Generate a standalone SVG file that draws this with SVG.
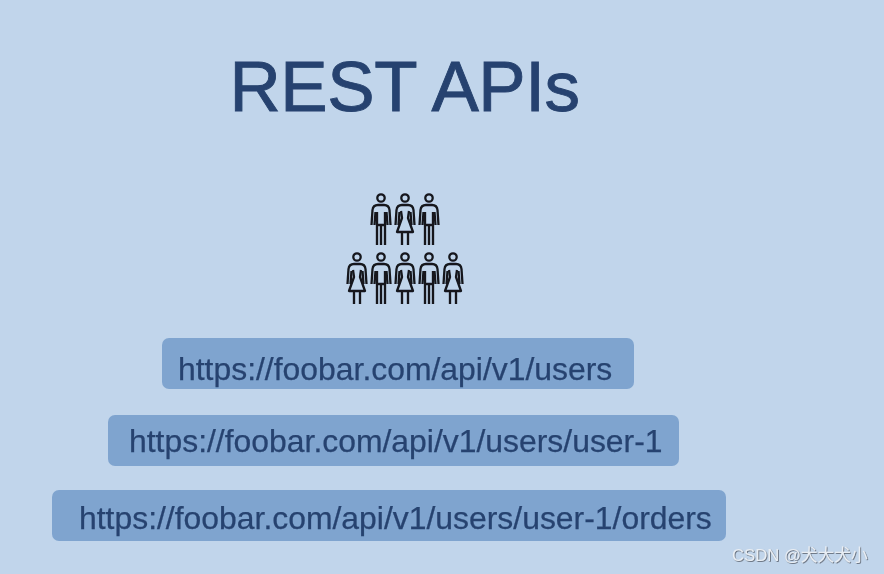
<svg xmlns="http://www.w3.org/2000/svg" width="884" height="574" viewBox="0 0 884 574">
<style>
.t{font-family:"Liberation Sans",Arial,sans-serif;fill:#27436f;stroke:#27436f}
.u{font-size:31.9px;stroke-width:0.25px}
.b{fill:#7fa4cf}
.p{fill:none;stroke:#14171d;stroke-width:2.300;stroke-linejoin:round;stroke-linecap:butt}
</style>
<defs>
<filter id="soft" x="-5%" y="-5%" width="110%" height="110%"><feGaussianBlur stdDeviation="0.45"/></filter>
<filter id="shadow" x="-5%" y="-20%" width="110%" height="140%"><feDropShadow dx="0.8" dy="0.8" stdDeviation="0.5" flood-color="#5c6470"/></filter>
<g id="man" class="p">
<circle cx="0" cy="0" r="3.700"/>
<path d="M-9.500,27 L-8.500,12 Q-8,7 -3,7 H3 Q8,7 8.500,12 L9.500,27"/>
<path d="M-6.500,27 L-5.500,14 M6.500,27 L5.500,14"/>
<path d="M-4,14 V47 M4,14 V47 M0,27 V47 M-4,27 H4"/>
</g>
<g id="woman" class="p">
<circle cx="0" cy="0" r="3.700"/>
<path d="M-9.500,27 L-8.500,12 Q-8,7 -3,7 H3 Q8,7 8.500,12 L9.500,27"/>
<path d="M-6.500,27 L-5.500,14 M6.500,27 L5.500,14"/>
<path d="M-4,13 L-3,20 L-8,34 H8 L3,20 L4,13"/>
<path d="M-3,34 V47 M3,34 V47"/>
</g>
</defs>
<rect width="884" height="574" fill="#c1d5eb"/>
<g id="title" filter="url(#soft)"><text class="t" x="229.500" y="110.500" font-size="71" letter-spacing="-0.400" stroke-width="0.9">REST APIs</text></g>
<g id="people" filter="url(#soft)">
<use href="#man" x="381" y="198"/>
<use href="#woman" x="405" y="198"/>
<use href="#man" x="429" y="198"/>
<use href="#woman" x="357" y="257"/>
<use href="#man" x="381" y="257"/>
<use href="#woman" x="405" y="257"/>
<use href="#man" x="429" y="257"/>
<use href="#woman" x="453" y="257"/>
</g>
<g id="url1"><rect class="b" x="162" y="338" width="472" height="51" rx="7"/><text class="t u" x="178" y="380" filter="url(#soft)">https://foobar.com/api/v1/users</text></g>
<g id="url2"><rect class="b" x="108" y="415" width="571" height="51" rx="7"/><text class="t u" x="129" y="452" filter="url(#soft)">https://foobar.com/api/v1/users/user-1</text></g>
<g id="url3"><rect class="b" x="52" y="490" width="674" height="51" rx="7"/><text class="t u" x="79" y="529" filter="url(#soft)">https://foobar.com/api/v1/users/user-1/orders</text></g>
<g id="watermark"><text x="732" y="561" font-size="16.700" fill="#e9eef4" filter="url(#shadow)" font-family="'Liberation Sans','Noto Sans CJK SC',sans-serif">CSDN @犬大犬小</text></g>
</svg>
